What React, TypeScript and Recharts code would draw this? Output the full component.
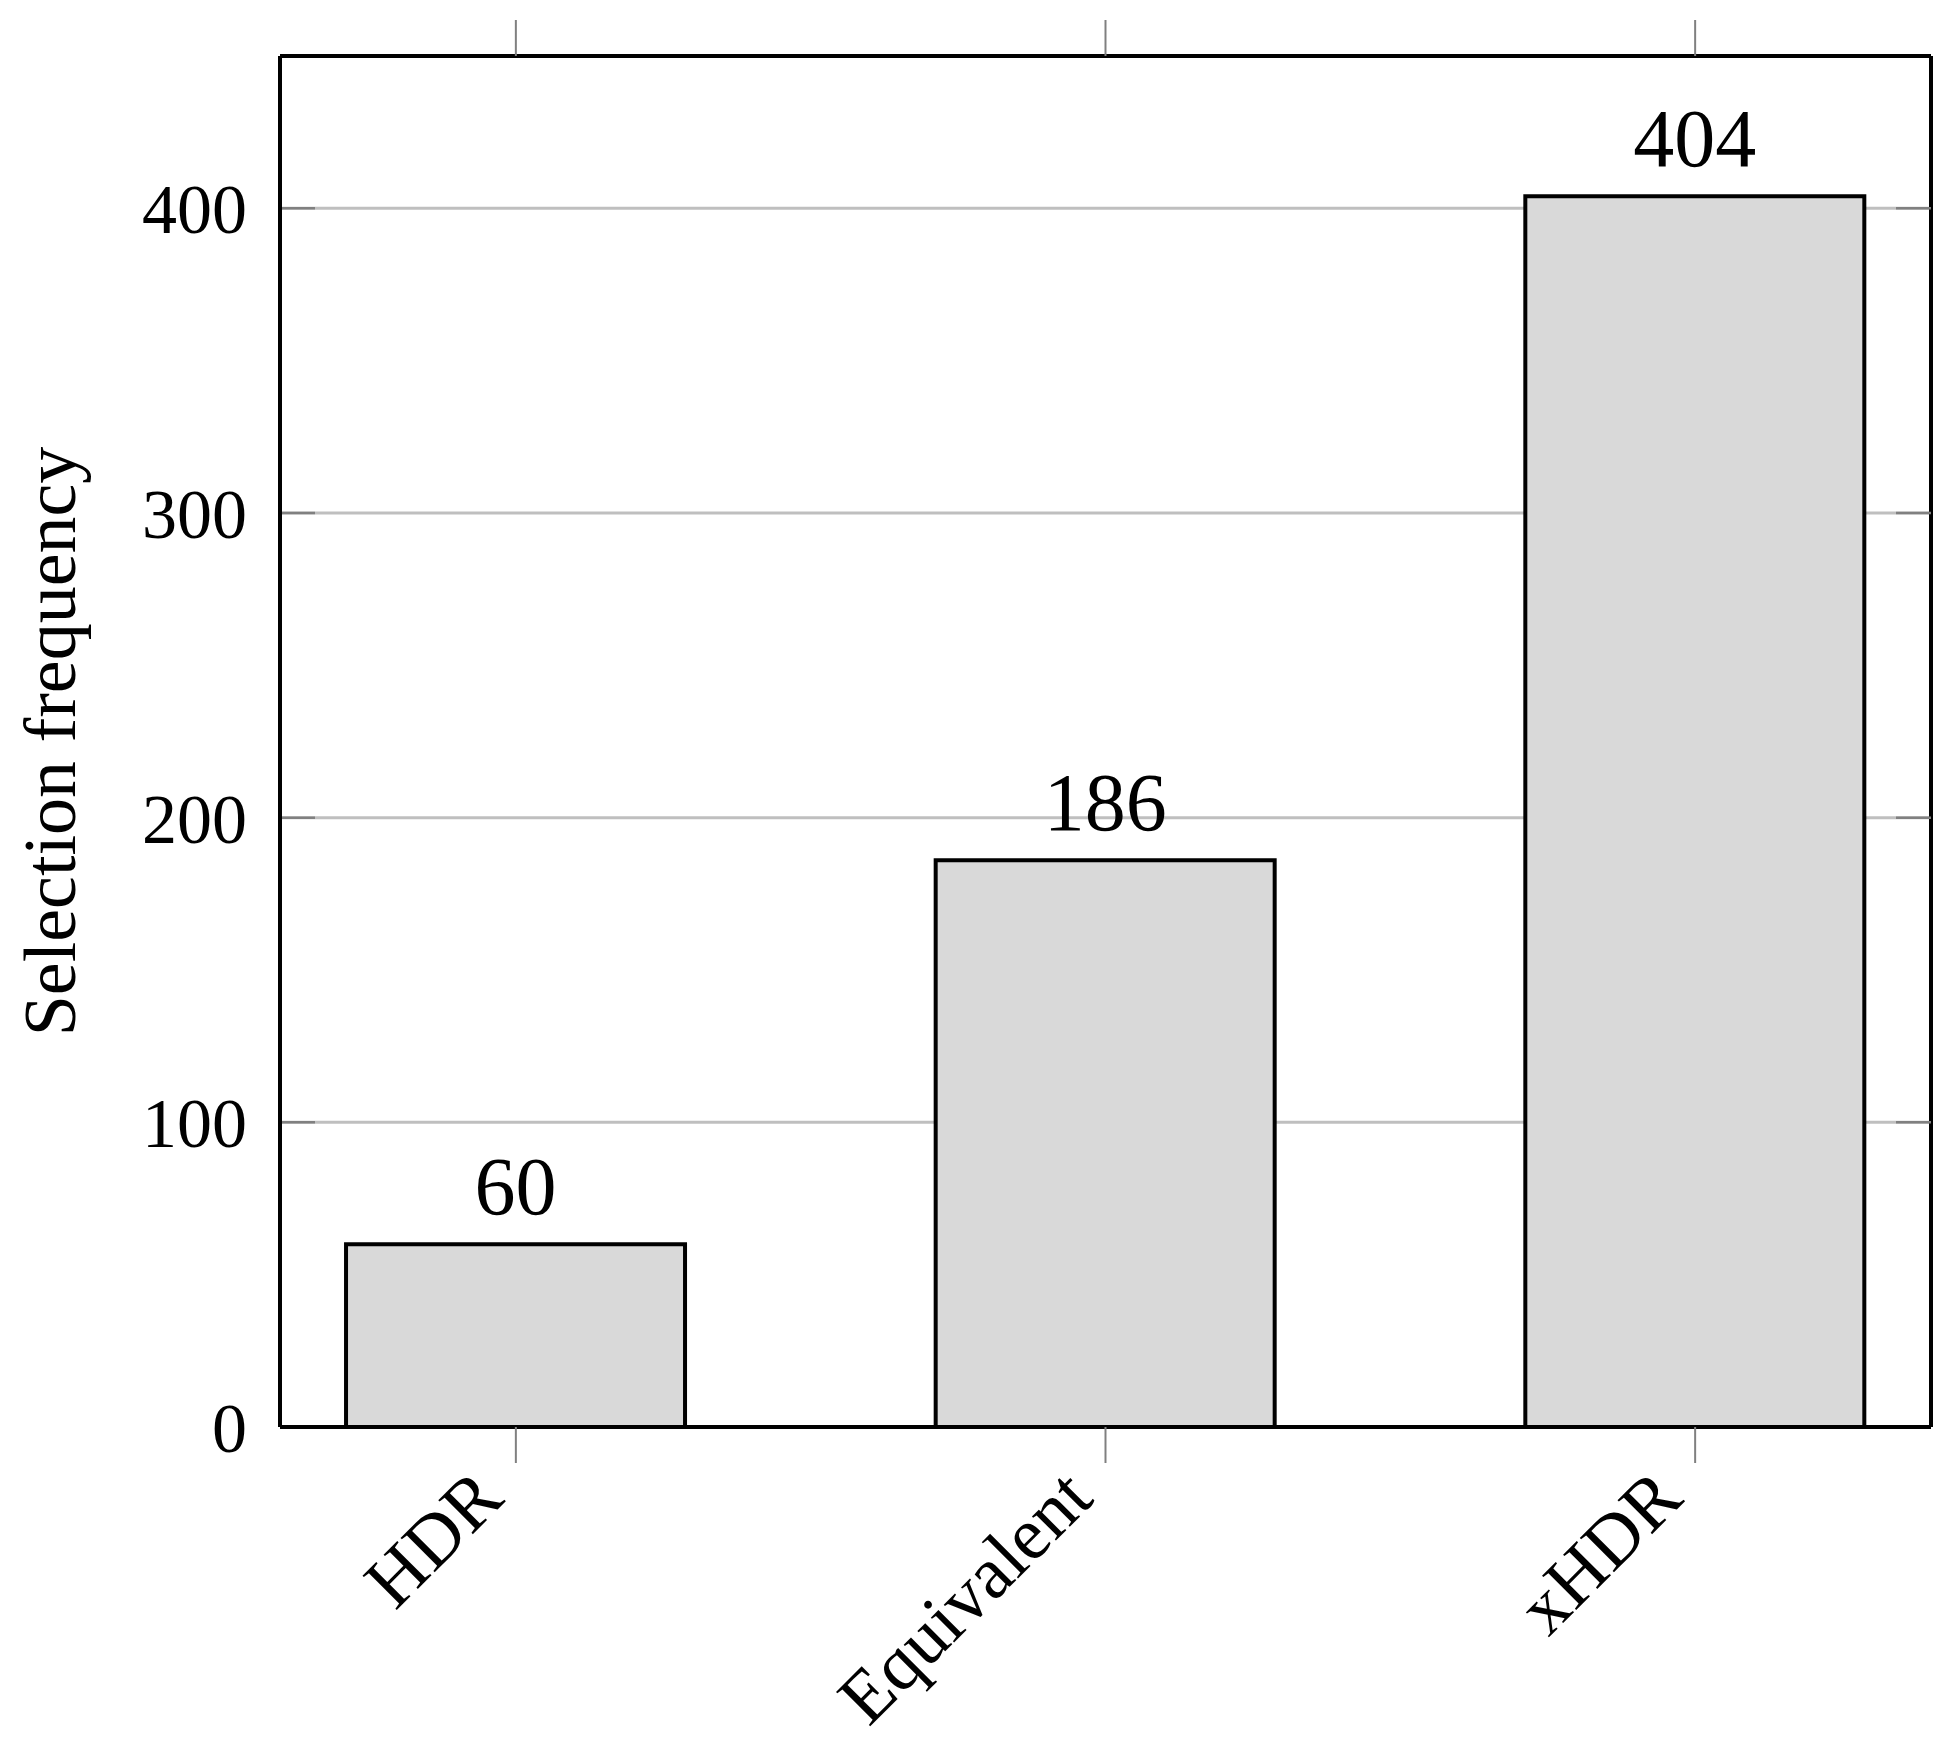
import React from 'react';
import { BarChart, Bar, XAxis, YAxis, CartesianGrid, LabelList, Label } from 'recharts';

// categories and their positions on the x axis
const categories = ['HDR', 'Equivalent', 'xHDR'];
const positions = [0, 1, 2];
const frequencies = [60, 186, 404];
const yTicks = [0, 100, 200, 300, 400];
const yDomain = [0, 450];
const xDomain = [-0.4, 2.4];

const data = categories.map((name, i) => ({ pos: positions[i], name, value: frequencies[i] }));
// inner tick marks: the one at 0 sits under the baseline
const innerTicks = yTicks.filter((t) => t > 0);

const FONT = '"Liberation Serif", "DejaVu Serif", serif';
const TICK_GRAY = '#808080';

const CategoryTick = ({ x, y, payload }: any) => {
  const ax = x - 10;
  const ay = y + 36;
  const label = categories[positions.indexOf(payload.value)];
  return (
    <text
      x={ax}
      y={ay}
      textAnchor="end"
      transform={`rotate(-45 ${ax} ${ay})`}
      fontSize={74}
      fontFamily={FONT}
      fill="#000"
    >
      {label}
    </text>
  );
};

// tick marks only, no text
const EmptyTick = () => <g />;

const YTitle = ({ viewBox }: any) => {
  const cx = viewBox.x - 5;
  const cy = viewBox.y + viewBox.height / 2;
  return (
    <text
      x={cx}
      y={cy}
      textAnchor="middle"
      transform={`rotate(-90 ${cx} ${cy})`}
      fontSize={74}
      fontFamily={FONT}
      fill="#000"
    >
      Selection frequency
    </text>
  );
};

const ValueLabel = ({ x, y, width, value }: any) => (
  <text x={x + width / 2} y={y - 30} textAnchor="middle" fontSize={82} fontFamily={FONT} fill="#000">
    {value}
  </text>
);

const App: React.FC = () => {
  return (
    <div style={{ position: 'absolute', left: 0, top: 0, width: 1958, height: 1757, background: '#fff' }}>
      <BarChart
        width={1958}
        height={1757}
        data={data}
        margin={{ top: 55, right: 27, bottom: 30, left: 80 }}
      >
        <CartesianGrid
          xAxisId="b"
          yAxisId="l"
          vertical={false}
          stroke="#bfbfbf"
          strokeWidth={3}
        />
        <Bar
          xAxisId="b"
          yAxisId="l"
          dataKey="value"
          barSize={339}
          fill="#d9d9d9"
          stroke="#000"
          strokeWidth={4}
          isAnimationActive={false}
        >
          <LabelList dataKey="value" content={<ValueLabel />} />
        </Bar>
        <YAxis
          yAxisId="li"
          orientation="left"
          mirror
          type="number"
          domain={yDomain}
          ticks={innerTicks}
          allowDataOverflow
          width={1}
          tickSize={35}
          tickLine={{ stroke: TICK_GRAY, strokeWidth: 2.5 }}
          axisLine={false}
          tick={<EmptyTick />}
        />
        <YAxis
          yAxisId="r"
          orientation="right"
          mirror
          type="number"
          domain={yDomain}
          ticks={innerTicks}
          allowDataOverflow
          width={1}
          tickSize={35}
          tickLine={{ stroke: TICK_GRAY, strokeWidth: 2.5 }}
          axisLine={{ stroke: '#000', strokeWidth: 4 }}
          tick={<EmptyTick />}
        />
        <XAxis
          xAxisId="b"
          dataKey="pos"
          type="number"
          domain={xDomain}
          ticks={positions}
          allowDataOverflow
          height={300}
          tickSize={36}
          tickMargin={2}
          tickLine={{ stroke: TICK_GRAY, strokeWidth: 2 }}
          axisLine={{ stroke: '#000', strokeWidth: 4 }}
          tick={<CategoryTick />}
        />
        <XAxis
          xAxisId="t"
          orientation="top"
          dataKey="pos"
          type="number"
          domain={xDomain}
          ticks={positions}
          allowDataOverflow
          height={1}
          tickSize={36}
          tickLine={{ stroke: TICK_GRAY, strokeWidth: 2 }}
          axisLine={{ stroke: '#000', strokeWidth: 4 }}
          tick={<EmptyTick />}
        />
        <YAxis
          yAxisId="l"
          type="number"
          domain={yDomain}
          ticks={yTicks}
          allowDataOverflow
          width={200}
          tickSize={0}
          tickMargin={33}
          tickLine={false}
          axisLine={{ stroke: '#000', strokeWidth: 4 }}
          tick={{ fontSize: 70, fontFamily: FONT, fill: '#000' }}
          label={<Label content={<YTitle />} />}
        />
      </BarChart>
    </div>
  );
};

export default App;
